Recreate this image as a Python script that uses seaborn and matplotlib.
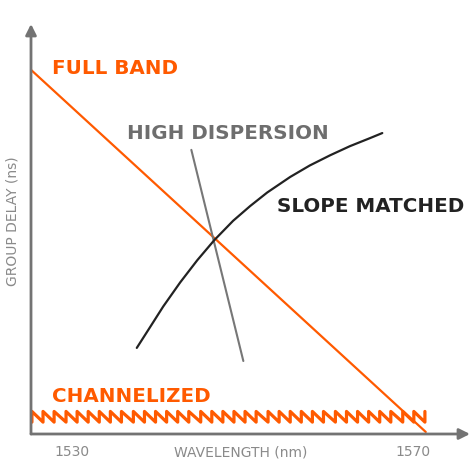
import matplotlib
matplotlib.use("Agg")
import matplotlib.pyplot as plt
import pandas as pd
import seaborn as sns

# Values: wavelength (nm) vs relative group delay (0-100)
full_band_x = [1525.2, 1571.5]
full_band_y = [88.8, 0.5]

high_disp_x = [1544.0, 1550.1]
high_disp_y = [69.3, 17.8]

slope_x = [1537.6, 1539.2, 1540.7, 1542.7, 1544.7, 1546.7, 1548.9, 1550.9,
           1552.9, 1555.6, 1557.9, 1560.3, 1562.6, 1565.0, 1566.4]
slope_y = [21.0, 26.2, 31.1, 37.0, 42.4, 47.3, 52.0, 55.6,
           58.9, 62.7, 65.5, 68.0, 70.2, 72.2, 73.4]

# channel edges of the channelized grating (each channel: delay resets, then falls)
channel_edges = [1525.3, 1526.6, 1527.9, 1529.3, 1530.6, 1531.9, 1533.2, 1534.5,
                 1535.8, 1537.2, 1538.5, 1539.8, 1541.1, 1542.4, 1543.7, 1545.1,
                 1546.4, 1547.7, 1549.0, 1550.3, 1551.6, 1553.0, 1554.3, 1555.6,
                 1556.9, 1558.2, 1559.5, 1560.9, 1562.2, 1563.5, 1564.8, 1566.1,
                 1567.4, 1568.8, 1570.1, 1571.4]
channel_top = 5.5
channel_bottom = 2.9

tick_values = [1530, 1570]
tick_labels = ["1530", "1570"]

ORANGE = "#ff5a00"
AXIS_GRAY = "#737373"
LIGHT_GRAY = "#8a8a8a"

sns.set_style("white")
plt.rcParams["font.family"] = ["DejaVu Sans"]

fig = plt.figure(figsize=(4.76, 4.67), dpi=100)
ax = fig.add_axes([31 / 476, 33 / 467, 439 / 476, 410 / 467])
ax.set_xlim(1525.19, 1576.69)
ax.set_ylim(0, 100)

# channelized sawtooth path
saw_x, saw_y = [], []
for e in channel_edges:
    saw_x += [e, e]
    saw_y += [channel_bottom, channel_top]
saw = pd.DataFrame({"x": saw_x, "y": saw_y})

sns.lineplot(data=saw, x="x", y="y", sort=False, estimator=None, color=ORANGE,
             lw=2.3, ax=ax, clip_on=False)
sns.lineplot(x=full_band_x, y=full_band_y, color=ORANGE, lw=1.6, ax=ax, clip_on=False)
sns.lineplot(x=high_disp_x, y=high_disp_y, color="#777777", lw=1.5, ax=ax)
sns.lineplot(x=slope_x, y=slope_y, color="#222222", lw=1.6, ax=ax)

# curve labels
lab = dict(fontsize=14.3, fontweight="bold", va="baseline", ha="left")
ax.text(1527.65, 87.8, "FULL BAND", color=ORANGE, **lab)
ax.text(1536.45, 71.95, "HIGH DISPERSION", color="#6e6e6e", **lab)
ax.text(1554.05, 54.15, "SLOPE MATCHED", color="#222222", **lab)
ax.text(1527.65, 7.9, "CHANNELIZED", color=ORANGE, **lab)

# axes drawn as arrows
for s in ax.spines.values():
    s.set_visible(False)
arrow = dict(arrowstyle="-|>", color=AXIS_GRAY, lw=2.0, mutation_scale=16,
             shrinkA=0, shrinkB=0)
ax.annotate("", xy=(1, 0), xytext=(0, 0), xycoords="axes fraction",
            textcoords="axes fraction", arrowprops=arrow)
ax.annotate("", xy=(0, 1), xytext=(0, 0), xycoords="axes fraction",
            textcoords="axes fraction", arrowprops=arrow)

ax.set_yticks([])
ax.set_xticks(tick_values)
ax.set_xticklabels(tick_labels)
ax.tick_params(axis="x", direction="inout", length=6.5, width=1.5, color=AXIS_GRAY,
               labelcolor=LIGHT_GRAY, labelsize=10, pad=5)

ax.set_xlabel("WAVELENGTH (nm)", color=LIGHT_GRAY, fontsize=10)
ax.xaxis.set_label_coords((241 - 31) / 439, (434 - 453) / 410)
ax.xaxis.label.set_va("center")
ax.set_ylabel("GROUP DELAY (ns)", color=LIGHT_GRAY, fontsize=10)
ax.yaxis.set_label_coords((12 - 31) / 439, (434 - 221) / 410)
ax.yaxis.label.set_va("center")

fig.savefig("out.png", dpi=100)
